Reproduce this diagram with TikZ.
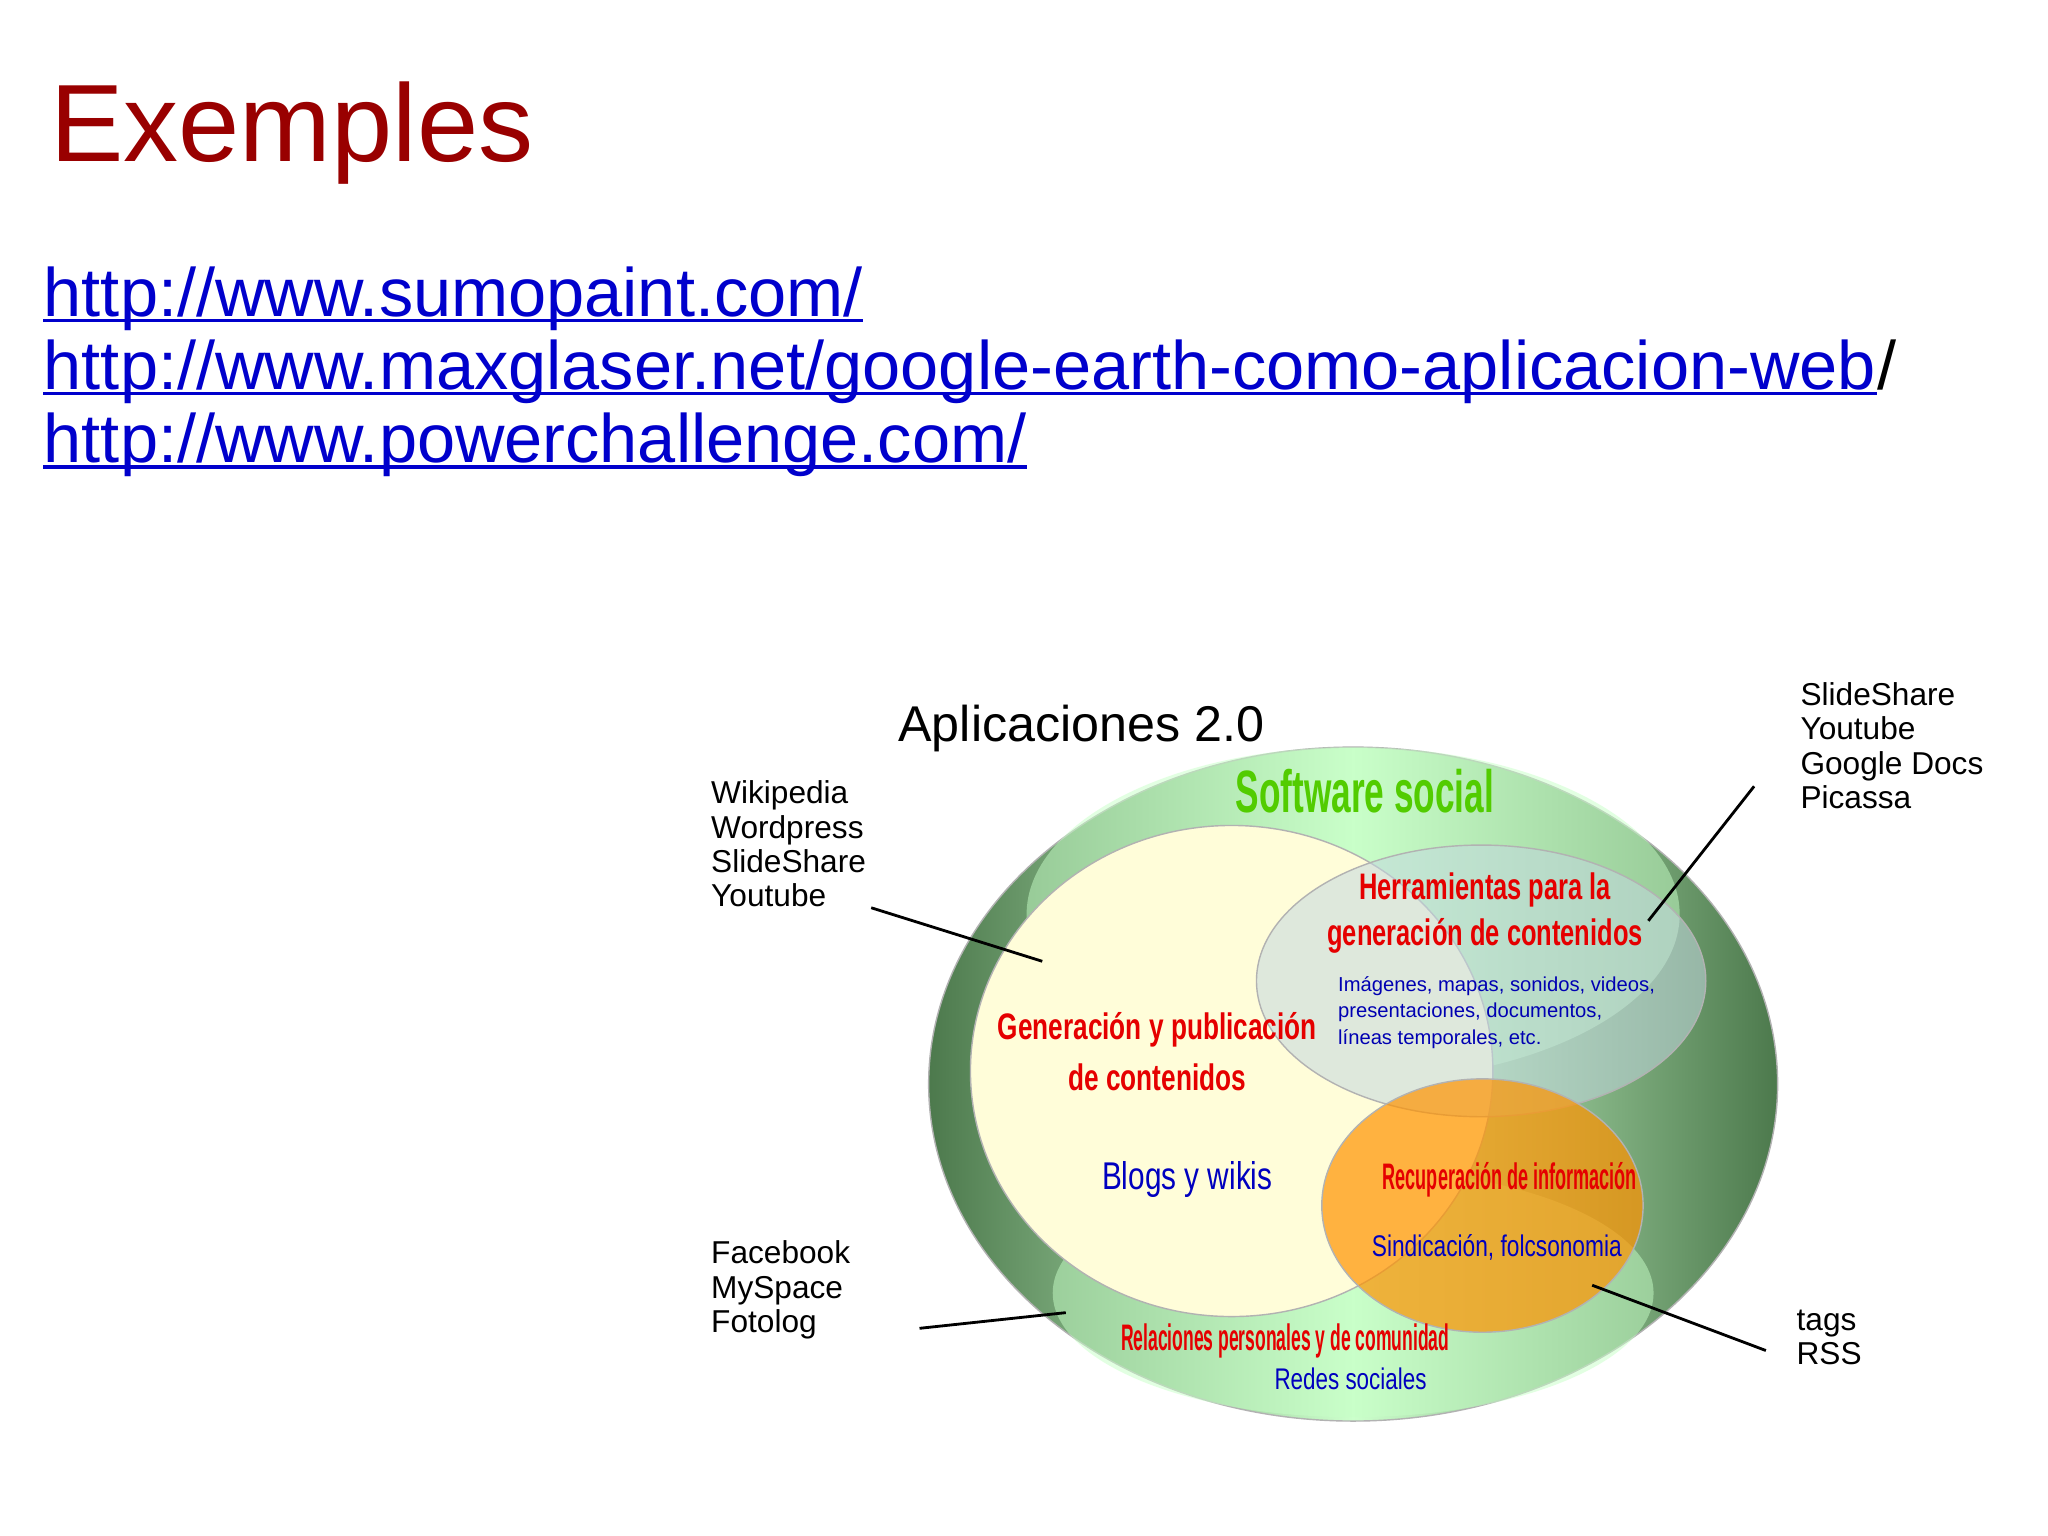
\documentclass[tikz,border=0pt]{standalone}
\usepackage{fontspec}
\setmainfont{Liberation Sans}
\begin{document}
\begin{tikzpicture}[x=0.01306cm,y=-0.01306cm,
  lbl/.style={anchor=base west,font=\fontsize{9}{11}\selectfont,inner sep=0},
  url/.style={anchor=base west,font=\fontsize{19.5}{23}\selectfont,text=blue!80!black,inner sep=0},
  ul/.style={blue!80!black,line width=0.9pt},
  red/.style={anchor=base,text=red!90!black,font=\bfseries\fontsize{10.5}{12}\selectfont,inner sep=0},
  blu/.style={anchor=base,text=blue!75!black,font=\fontsize{8.5}{10}\selectfont,inner sep=0},
  sm/.style={anchor=base west,text=blue!70!black,font=\fontsize{5.75}{7}\selectfont,inner sep=0},
  ptr/.style={line width=0.8pt}]
\useasboundingbox (0,0) rectangle (1568,1176);
\fill[white] (0,0) rectangle (1568,1176);
\node[anchor=base west,inner sep=0,text=red!60!black,font=\fontsize{31.3}{36}\selectfont] (title) at (38,124) {Exemples};
\node[url] (u1) at (33,242) {http://www.sumopaint.com/};
\node[url] (u2) at (33,298) {http://www.maxglaser.net/google-earth-como-aplicacion-web};
\node[url,text=black] (u2s) at (u2.base east) {/};
\node[url] (u3) at (33,354) {http://www.powerchallenge.com/\ };
\draw[ul] ([yshift=-1.3pt]u1.base west) -- ([yshift=-1.3pt]u1.base east);
\draw[ul] ([yshift=-1.3pt]u2.base west) -- ([yshift=-1.3pt]u2.base east);
\draw[ul] ([yshift=-1.3pt]u3.base west) -- ([yshift=-1.3pt]u3.base east);
% diagram
\shade[left color=green!25!black!70,right color=green!25!black!70,middle color=green!20!white,draw=gray!60] (1036,830) ellipse [x radius=325,y radius=258];
\fill[green!22!white,opacity=0.5] (1036,700) ellipse [x radius=250,y radius=128];
\fill[green!22!white,opacity=0.5] (1036,990) ellipse [x radius=230,y radius=95];
\filldraw[fill=yellow!15,draw=gray!60] (943,820) ellipse [x radius=200,y radius=188];
\filldraw[fill=cyan!35!gray!40,draw=gray!60,fill opacity=0.55] (1134,751) ellipse [x radius=172,y radius=104];
\filldraw[fill=orange!85!yellow,draw=gray!60,fill opacity=0.7] (1135,923) ellipse [x radius=123,y radius=97];
\node[anchor=base,inner sep=0,font=\fontsize{14.3}{17}\selectfont] (apl) at (828,568) {Aplicaciones 2.0};
\node[anchor=base,inner sep=0,text=green!60!yellow!80!black,font=\bfseries\fontsize{17}{20}\selectfont] (ss) at (1045,622) {\scalebox{0.59}[1]{Software social}};
\node[red] (h1) at (1137,689) {\scalebox{0.69}[1]{Herramientas para la}};
\node[red] (h2) at (1137,724) {\scalebox{0.69}[1]{generación de contenidos}};
\node[sm] (s1) at (1024,759) {Imágenes, mapas, sonidos, videos,};
\node[sm] (s2) at (1024,779) {presentaciones, documentos,};
\node[sm] (s3) at (1024,800) {líneas temporales, etc.};
\node[red] (g1) at (886,796) {\scalebox{0.71}[1]{Generación y publicación}};
\node[red] (g2) at (886,835) {\scalebox{0.71}[1]{de contenidos}};
\node[blu,font=\fontsize{11}{13}\selectfont] (bw) at (909,911) {\scalebox{0.77}[1]{Blogs y wikis}};
\node[red] (r1) at (1156,911) {\scalebox{0.49}[1]{Recuperación de información}};
\node[blu] (r2) at (1146,962) {\scalebox{0.76}[1]{Sindicación, folcsonomia}};
\node[red] (p1) at (984,1034) {\scalebox{0.475}[1]{Relaciones personales y de comunidad}};
\node[blu] (p2) at (1034,1064) {\scalebox{0.75}[1]{Redes sociales}};
% labels
\node[lbl] (l1) at (544,615) {Wikipedia};
\node[lbl] (l2) at (544,642) {Wordpress};
\node[lbl] (l3) at (544,668) {SlideShare};
\node[lbl] (l4) at (544,694) {Youtube};
\node[lbl] (f1) at (544,967) {Facebook};
\node[lbl] (f2) at (544,994) {MySpace};
\node[lbl] (f3) at (544,1020) {Fotolog};
\node[lbl] (k1) at (1378,540) {SlideShare};
\node[lbl] (k2) at (1378,566) {Youtube};
\node[lbl] (k3) at (1378,593) {Google Docs};
\node[lbl] (k4) at (1378,619) {Picassa};
\node[lbl] (t1) at (1375,1019) {tags};
\node[lbl] (t2) at (1375,1045) {RSS};
\coordinate (a1) at (667,695); \coordinate (a2) at (798,736);
\coordinate (b1) at (704,1017); \coordinate (b2) at (816,1005);
\coordinate (c1) at (1343,602); \coordinate (c2) at (1262,705);
\coordinate (d1) at (1352,1034); \coordinate (d2) at (1219,984);
\draw[ptr] (a1) -- (a2);
\draw[ptr] (b1) -- (b2);
\draw[ptr] (c1) -- (c2);
\draw[ptr] (d1) -- (d2);
\end{tikzpicture}
\end{document}
